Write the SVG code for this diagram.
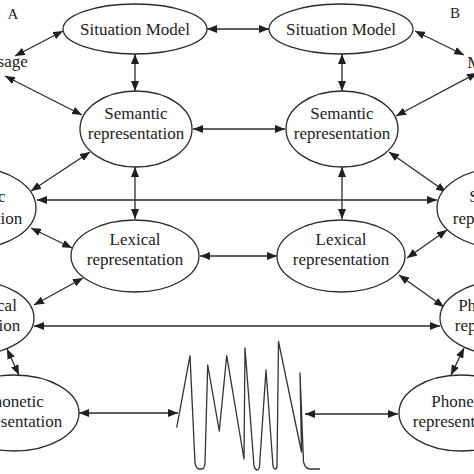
<svg xmlns="http://www.w3.org/2000/svg" width="474" height="474" viewBox="0 0 474 474">
<defs>
<style>
.n ellipse{fill:#fff;stroke:#2b2b2b;stroke-width:1.3}
text{font-family:"Liberation Serif","Times New Roman",serif;font-size:17px;fill:#222;text-anchor:middle}
.c line{stroke:#2b2b2b;stroke-width:1.3;marker-start:url(#ah);marker-end:url(#ah)}
.w{fill:none;stroke:#333;stroke-width:1.3;stroke-linejoin:round}
.lab{font-size:15px}
</style>
<marker id="ah" viewBox="0 0 10 8" refX="10" refY="4" markerWidth="10" markerHeight="8" markerUnits="userSpaceOnUse" orient="auto-start-reverse">
<path d="M0,0 L10,4 L0,8 z" fill="#1f1f1f"/>
</marker>
</defs>
<rect width="474" height="474" fill="#fff"/>

<text class="lab" x="13" y="19">A</text>
<text class="lab" x="455" y="18">B</text>

<g class="c" id="connectors">
<line x1="207" y1="29" x2="269" y2="29"/>
<line x1="193" y1="129" x2="285" y2="129"/>
<line x1="37" y1="200" x2="437" y2="200"/>
<line x1="200" y1="256" x2="277" y2="256"/>
<line x1="34" y1="326" x2="440" y2="326"/>
<line x1="79" y1="413" x2="178" y2="413"/>
<line x1="305" y1="414" x2="398" y2="414"/>
<line x1="135" y1="54" x2="135" y2="91"/>
<line x1="135" y1="167" x2="135" y2="219"/>
<line x1="342" y1="54" x2="342" y2="91"/>
<line x1="342" y1="167" x2="342" y2="219"/>
<line x1="63" y1="31" x2="15" y2="56"/>
<line x1="5" y1="76" x2="82" y2="115"/>
<line x1="90" y1="152" x2="31" y2="191"/>
<line x1="31" y1="228" x2="72" y2="248"/>
<line x1="83" y1="278" x2="34" y2="305"/>
<line x1="7" y1="349" x2="19" y2="375"/>
<line x1="415" y1="31" x2="464" y2="55"/>
<line x1="477" y1="73" x2="396" y2="116"/>
<line x1="389" y1="152" x2="446" y2="192"/>
<line x1="447" y1="230" x2="407" y2="258"/>
<line x1="399" y1="275" x2="444" y2="307"/>
<line x1="464" y1="348" x2="451" y2="375"/>
</g>

<g class="n" id="situation-left"><ellipse cx="135" cy="29" rx="72" ry="25"/><text x="135" y="35">Situation Model</text></g>
<g class="n" id="situation-right"><ellipse cx="341" cy="29" rx="72" ry="25"/><text x="341" y="35">Situation Model</text></g>
<g id="message-left"><text x="-2" y="67">Message</text></g>
<g id="message-right"><text x="497" y="68">Message</text></g>
<g class="n" id="semantic-left"><ellipse cx="136" cy="129" rx="56" ry="38"/><text x="136" y="119">Semantic</text><text x="136" y="139">representation</text></g>
<g class="n" id="semantic-right"><ellipse cx="342" cy="129" rx="56" ry="38"/><text x="342" y="119">Semantic</text><text x="342" y="139">representation</text></g>
<g class="n" id="syntactic-left"><ellipse cx="-26" cy="208" rx="62" ry="40"/><text x="-26" y="202">Syntactic</text><text x="-26" y="224">representation</text></g>
<g class="n" id="syntactic-right"><ellipse cx="501" cy="208" rx="64" ry="40"/><text x="501" y="202">Syntactic</text><text x="501" y="224">representation</text></g>
<g class="n" id="lexical-left"><ellipse cx="135" cy="256" rx="64" ry="36"/><text x="135" y="245">Lexical</text><text x="135" y="265">representation</text></g>
<g class="n" id="lexical-right"><ellipse cx="341" cy="256" rx="64" ry="36"/><text x="341" y="245">Lexical</text><text x="341" y="265">representation</text></g>
<g class="n" id="phonological-left"><ellipse cx="-28" cy="318" rx="62" ry="37"/><text x="-28" y="311">Phonological</text><text x="-28" y="331">representation</text></g>
<g class="n" id="phonological-right"><ellipse cx="503" cy="318" rx="63" ry="37"/><text x="503" y="311">Phonological</text><text x="503" y="331">representation</text></g>
<g class="n" id="phonetic-left"><ellipse cx="14" cy="413" rx="65" ry="38"/><text x="14" y="407">Phonetic</text><text x="14" y="427">representation</text></g>
<g class="n" id="phonetic-right"><ellipse cx="461" cy="413" rx="62" ry="38"/><text x="461" y="407">Phonetic</text><text x="461" y="427">representation</text></g>

<g id="waveform">
<path class="w" d="M176.7,427.7 L190,355.7 L195,463 Q196.5,469 199,469 L202,469 Q204.5,469 205,463 L207.7,365 L219.3,431 L226.7,355.7 L244,459 L245,348 L254,466 Q255.5,470 257,470 Q259,470 259.5,466 L266,370 L273,466 Q274,469 275,469 Q277,469 277,466 L278.5,341.5 L301.5,452 L300,373 L303.5,462 Q305.5,469 310,469 L320,469"/>
</g>
</svg>
